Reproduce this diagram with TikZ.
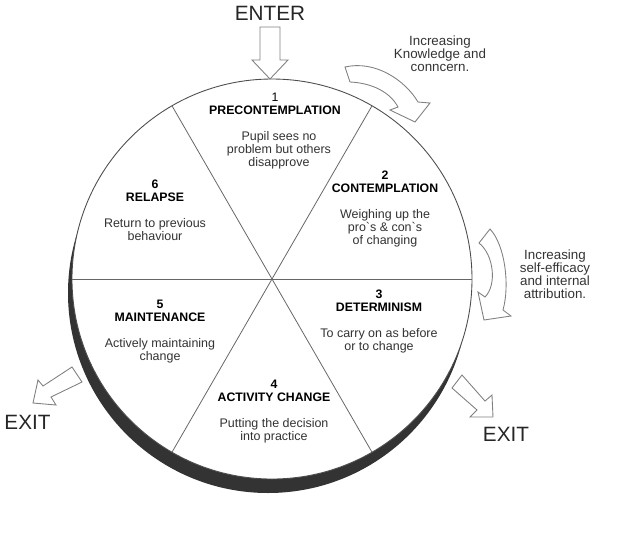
\documentclass[tikz,border=0pt]{standalone}
\usepackage{fontspec}
\setmainfont{Liberation Sans}
\usetikzlibrary{positioning}

\definecolor{inkgray}{gray}{0.2}
\definecolor{rimdark}{gray}{0.2}
\definecolor{rimgray}{gray}{0.4}

\tikzset{
  stagehead/.style={align=center, inner sep=0pt, font=\fontsize{7}{7.4}\selectfont\bfseries},
  stagebody/.style={align=center, inner sep=0pt, font=\fontsize{7.1}{7.4}\selectfont, text=inkgray},
  sidenote/.style={align=center, inner sep=0pt, font=\fontsize{7.6}{7.4}\selectfont, text=inkgray},
  bigword/.style={inner sep=0pt, font=\fontsize{11.8}{14}\selectfont, text=black!85},
  blockarrow/.style={draw=black!50, line width=0.5pt, fill=white, line join=miter},
}

\begin{document}
\begin{tikzpicture}[x=0.02cm, y=-0.02cm]
  \useasboundingbox (0,0) rectangle (640,549);
  \coordinate (O) at (272,279);

  % wheel with its dark rim
  \fill[rimdark] (268,293) circle [radius=200];
  \draw[fill=white, draw=black!70, line width=0.5pt] (O) circle [radius=200];
  \foreach \a in {0,60,120}
    \draw[rimgray, line width=0.45pt] (O) ++(\a:200) -- ++(\a+180:400);

  % block arrows
  \draw[blockarrow] (260,27) -- (280,27) -- (280,60) -- (288,60) -- (270,79)
    -- (252,60) -- (260,60) -- cycle;
  \draw[blockarrow] (345,67) .. controls (375,60) and (405,80) .. (418,102)
    -- (430,103) -- (415,122) -- (390,110) -- (398,107)
    .. controls (390,92) and (372,83) .. (350,82) -- cycle;
  \draw[blockarrow] (490,229) .. controls (505,245) and (510,285) .. (503,310)
    -- (511,316) -- (484,320) -- (478,292) -- (485,297)
    .. controls (497,285) and (494,255) .. (479,243) -- cycle;
  \draw[blockarrow] (72,367) -- (82,382) -- (51,397) -- (56,405) -- (33,403)
    -- (38,380) -- (43,386) -- cycle;
  \draw[blockarrow] (462,375) -- (485,401) -- (492,395) -- (493,417) -- (470,417)
    -- (477,410) -- (452,388) -- cycle;

  % entry and exits
  \node[bigword, anchor=base] (enter) at (270,20.7) {ENTER};
  \node[bigword, anchor=base] (exitl) at (27.5,429.5) {EXIT};
  \node[bigword, anchor=base] (exitr) at (506,441.7) {EXIT};

  \node[sidenote, anchor=north] (knowledge) at (440,35) {Increasing\\Knowledge and\\conncern.};
  \node[sidenote, anchor=north] (efficacy) at (555,249.3) {Increasing\\self-efficacy\\and internal\\attribution.};

  % the six stages
  \node[stagehead, anchor=north] (pre) at (275,93) {{\mdseries 1}\\PRECONTEMPLATION};
  \node[stagebody, below=0.32cm of pre, xshift=0.08cm] (prebody) {Pupil sees no\\problem but others\\disapprove};

  \node[stagehead, anchor=north] (con) at (385,170.7) {2\\CONTEMPLATION};
  \node[stagebody, below=0.32cm of con] (conbody) {Weighing up the\\pro\textasciigrave s \& con\textasciigrave s\\of changing};

  \node[stagehead, anchor=north] (det) at (379,289.3) {3\\DETERMINISM};
  \node[stagebody, below=0.32cm of det] (detbody) {To carry on as before\\or to change};

  \node[stagehead, anchor=north] (act) at (274,380) {4\\ACTIVITY CHANGE};
  \node[stagebody, below=0.32cm of act] (actbody) {Putting the decision\\into practice};

  \node[stagehead, anchor=north] (mai) at (160,300) {5\\MAINTENANCE};
  \node[stagebody, below=0.32cm of mai] (maibody) {Actively maintaining\\change};

  \node[stagehead, anchor=north] (rel) at (155,179.3) {6\\RELAPSE};
  \node[stagebody, below=0.32cm of rel] (relbody) {Return to previous\\behaviour};
\end{tikzpicture}
\end{document}
